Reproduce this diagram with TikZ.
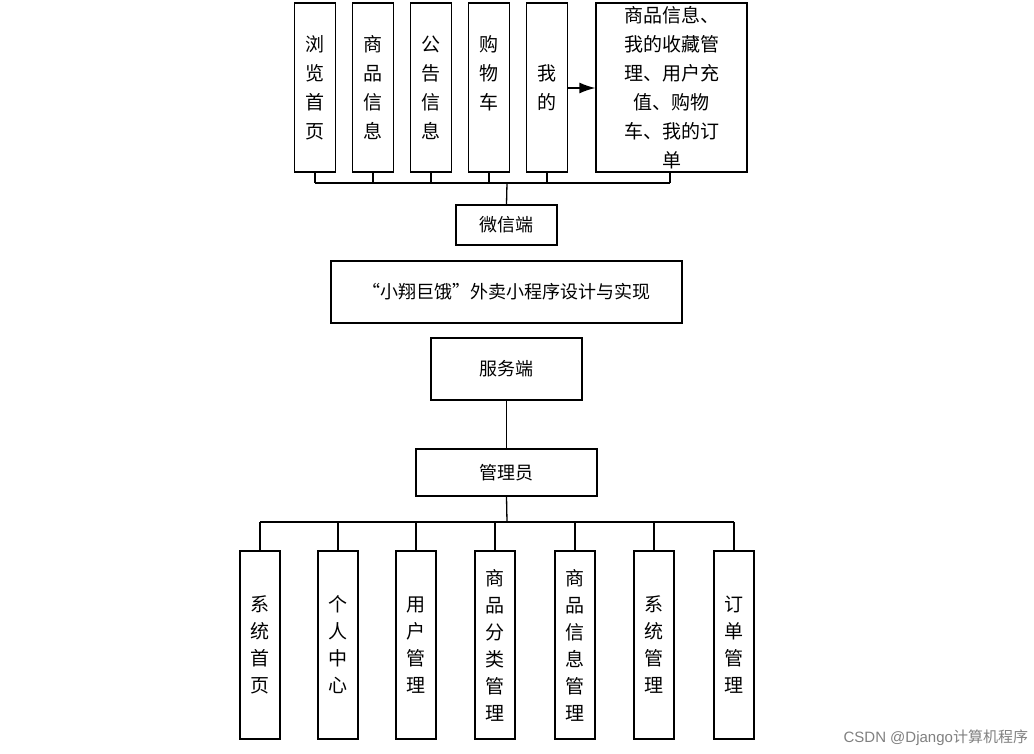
\documentclass[tikz,border=0pt]{standalone}
\usepackage{fontspec}
\newfontfamily\cjk{Noto Sans CJK SC}
\usetikzlibrary{arrows.meta}
\begin{document}
\begin{tikzpicture}[x=1pt,y=-1pt,line width=1.3pt,
  bx/.style={draw,fill=white,inner sep=0pt,font=\cjk\fontsize{19}{29}\selectfont,align=center},
  mb/.style={draw,fill=white,inner sep=0pt,font=\cjk\fontsize{18}{22}\selectfont,align=center}]
\useasboundingbox (0,0) rectangle (1034,754);
\foreach \n/\x/\t in {a/315/浏\\览\\首\\页, b/373/商\\品\\信\\息, c/431/公\\告\\信\\息, d/489/购\\物\\车\\{}, e/547/我\\的}{
  \node[bx,minimum width=41,minimum height=169] (\n) at (\x,87.5) {\t};}
\node[bx,minimum width=151,minimum height=169] (f) at (671.5,87.5) {};
\node[font=\cjk\fontsize{19}{29}\selectfont,align=center] at (671.5,87.5) {商品信息、\\我的收藏管\\理、用户充\\值、购物\\车、我的订\\单};
\draw[-{Latex[length=16pt,width=11pt]}] (e.east|-0,88) -- (f.west|-0,88);
\coordinate (bus) at (507,183);
\foreach \n in {a,b,c,d,e}{\draw (\n.south) -- (\n.south|-bus);}
\draw (670,172) -- (670,183);
\draw (a.south|-bus) -- (670,183);
\node[mb,minimum width=101,minimum height=40] (wx) at (506.5,225) {微信端};
\draw (bus) -- (wx.north);
\node[mb,minimum width=351,minimum height=62] (t) at (506.5,292) {“小翔巨饿”外卖小程序设计与实现};
\node[mb,minimum width=151,minimum height=62] (s) at (506.5,369) {服务端};
\node[mb,minimum width=181,minimum height=47] (g) at (506.5,472.5) {管理员};
\draw (s.south) -- (g.north);
\coordinate (bb) at (507,522);
\draw (g.south) -- (bb);
\draw (260,522) -- (734,522);
\foreach \n/\x/\t in {p/260/系\\统\\首\\页, q/338/个\\人\\中\\心, r/416/用\\户\\管\\理, u/495/商\\品\\分\\类\\管\\理, v/575/商\\品\\信\\息\\管\\理, w/654/系\\统\\管\\理, z/734/订\\单\\管\\理}{
  \node[bx,minimum width=40,minimum height=188,font=\cjk\fontsize{19}{27}\selectfont] (\n) at (\x,645) {\t};
  \draw (\n.north) -- (\n.north|-bb);}
\node[anchor=south east,font=\fontspec{Liberation Sans}\fontsize{15}{16}\selectfont,text=gray] at (1032,750) {CSDN @Django{\cjk 计算机程序}};
\end{tikzpicture}
\end{document}
